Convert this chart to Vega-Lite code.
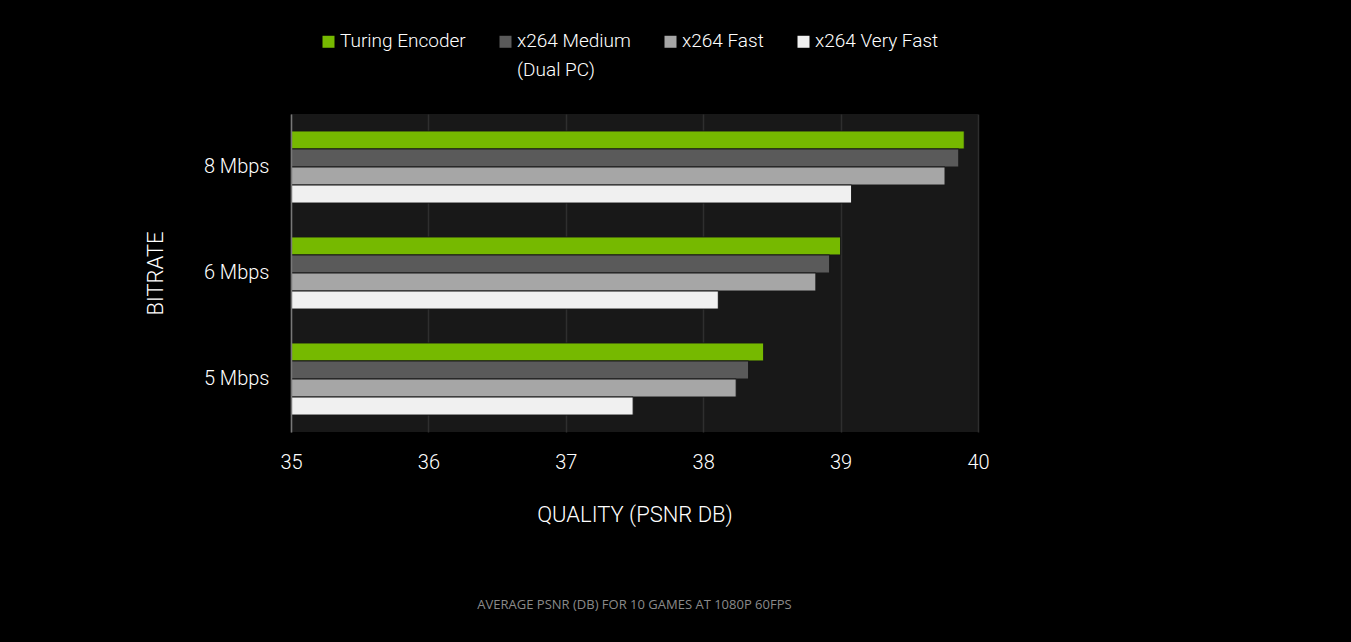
{
  "$schema": "https://vega.github.io/schema/vega-lite/v6.json",
  "autosize": {"type": "none"},
  "padding": {"left": 291, "top": 114, "right": 373, "bottom": 210},
  "width": 687,
  "height": 318,
  "background": "#000000",
  "title": {
    "text": "AVERAGE PSNR (DB) FOR 10 GAMES AT 1080P 60FPS",
    "orient": "bottom",
    "anchor": "middle",
    "offset": 74,
    "font": "Open Sans",
    "fontSize": 13,
    "fontWeight": "normal",
    "color": "#8a8a8a"
  },
  "data": {
    "values": [
      {"bitrate": "8 Mbps", "encoder": "Turing Encoder", "psnr": 39.9},
      {"bitrate": "8 Mbps", "encoder": "x264 Medium (Dual PC)", "psnr": 39.86},
      {"bitrate": "8 Mbps", "encoder": "x264 Fast", "psnr": 39.76},
      {"bitrate": "8 Mbps", "encoder": "x264 Very Fast", "psnr": 39.08},
      {"bitrate": "6 Mbps", "encoder": "Turing Encoder", "psnr": 39.0},
      {"bitrate": "6 Mbps", "encoder": "x264 Medium (Dual PC)", "psnr": 38.92},
      {"bitrate": "6 Mbps", "encoder": "x264 Fast", "psnr": 38.82},
      {"bitrate": "6 Mbps", "encoder": "x264 Very Fast", "psnr": 38.11},
      {"bitrate": "5 Mbps", "encoder": "Turing Encoder", "psnr": 38.44},
      {"bitrate": "5 Mbps", "encoder": "x264 Medium (Dual PC)", "psnr": 38.33},
      {"bitrate": "5 Mbps", "encoder": "x264 Fast", "psnr": 38.24},
      {"bitrate": "5 Mbps", "encoder": "x264 Very Fast", "psnr": 37.49}
    ]
  },
  "mark": {"type": "bar", "stroke": "#181818", "strokeWidth": 1},
  "encoding": {
    "y": {
      "field": "bitrate",
      "type": "nominal",
      "sort": ["8 Mbps", "6 Mbps", "5 Mbps"],
      "scale": {"paddingInner": 0.32, "paddingOuter": 0.16},
      "axis": {
        "title": "BITRATE",
        "titleFontSize": 22,
        "titleFontWeight": 300,
        "titleColor": "#ffffff",
        "titlePadding": 36,
        "titleFont": "Roboto",
        "labelFont": "Roboto",
        "labelFontWeight": 300,
        "labelFontSize": 20,
        "labelColor": "#ffffff",
        "labelPadding": 22,
        "ticks": false,
        "domain": true,
        "domainColor": "#777777",
        "domainWidth": 1.5,
        "zindex": 1
      }
    },
    "yOffset": {
      "field": "encoder",
      "type": "nominal",
      "sort": ["Turing Encoder", "x264 Medium (Dual PC)", "x264 Fast", "x264 Very Fast"],
      "scale": {"paddingInner": 0.0, "paddingOuter": 0}
    },
    "x": {
      "field": "psnr",
      "type": "quantitative",
      "scale": {"domain": [35, 40], "zero": false, "nice": false},
      "axis": {
        "title": "QUALITY (PSNR DB)",
        "titleFontSize": 22,
        "titleFontWeight": 300,
        "titleColor": "#ffffff",
        "titleFont": "Roboto",
        "titlePadding": 32,
        "values": [35, 36, 37, 38, 39, 40],
        "labelFont": "Roboto",
        "labelFontWeight": 300,
        "labelFontSize": 20,
        "labelColor": "#ffffff",
        "labelPadding": 20,
        "labelFlush": false,
        "ticks": false,
        "domain": false,
        "grid": true,
        "gridColor": "#2e2e2e",
        "gridWidth": 1.5
      }
    },
    "x2": {"datum": 35},
    "color": {
      "field": "encoder",
      "type": "nominal",
      "sort": ["Turing Encoder", "x264 Medium (Dual PC)", "x264 Fast", "x264 Very Fast"],
      "scale": {
        "domain": ["Turing Encoder", "x264 Medium (Dual PC)", "x264 Fast", "x264 Very Fast"],
        "range": ["#76b900", "#5a5a5a", "#a6a6a6", "#f0f0f0"]
      },
      "legend": {
        "orient": "none",
        "direction": "horizontal",
        "legendX": 28,
        "legendY": -92,
        "title": null,
        "symbolType": "M-1,0.67H1V2.67H-1Z",
        "symbolSize": 144,
        "symbolStrokeWidth": 0,
        "labelFont": "Roboto",
        "labelFontWeight": 300,
        "labelFontSize": 19,
        "labelColor": "#ffffff",
        "labelOffset": 2,
        "labelBaseline": "top",
        "labelLimit": 300,
        "columnPadding": 30,
        "padding": 0,
        "labelExpr": "datum.label == 'x264 Medium (Dual PC)' ? ['x264 Medium', '(Dual PC)'] : [datum.label, '']"
      }
    }
  },
  "config": {
    "view": {"fill": "#181818", "stroke": null},
    "style": {"guide-label": {"lineHeight": 29}}
  }
}
